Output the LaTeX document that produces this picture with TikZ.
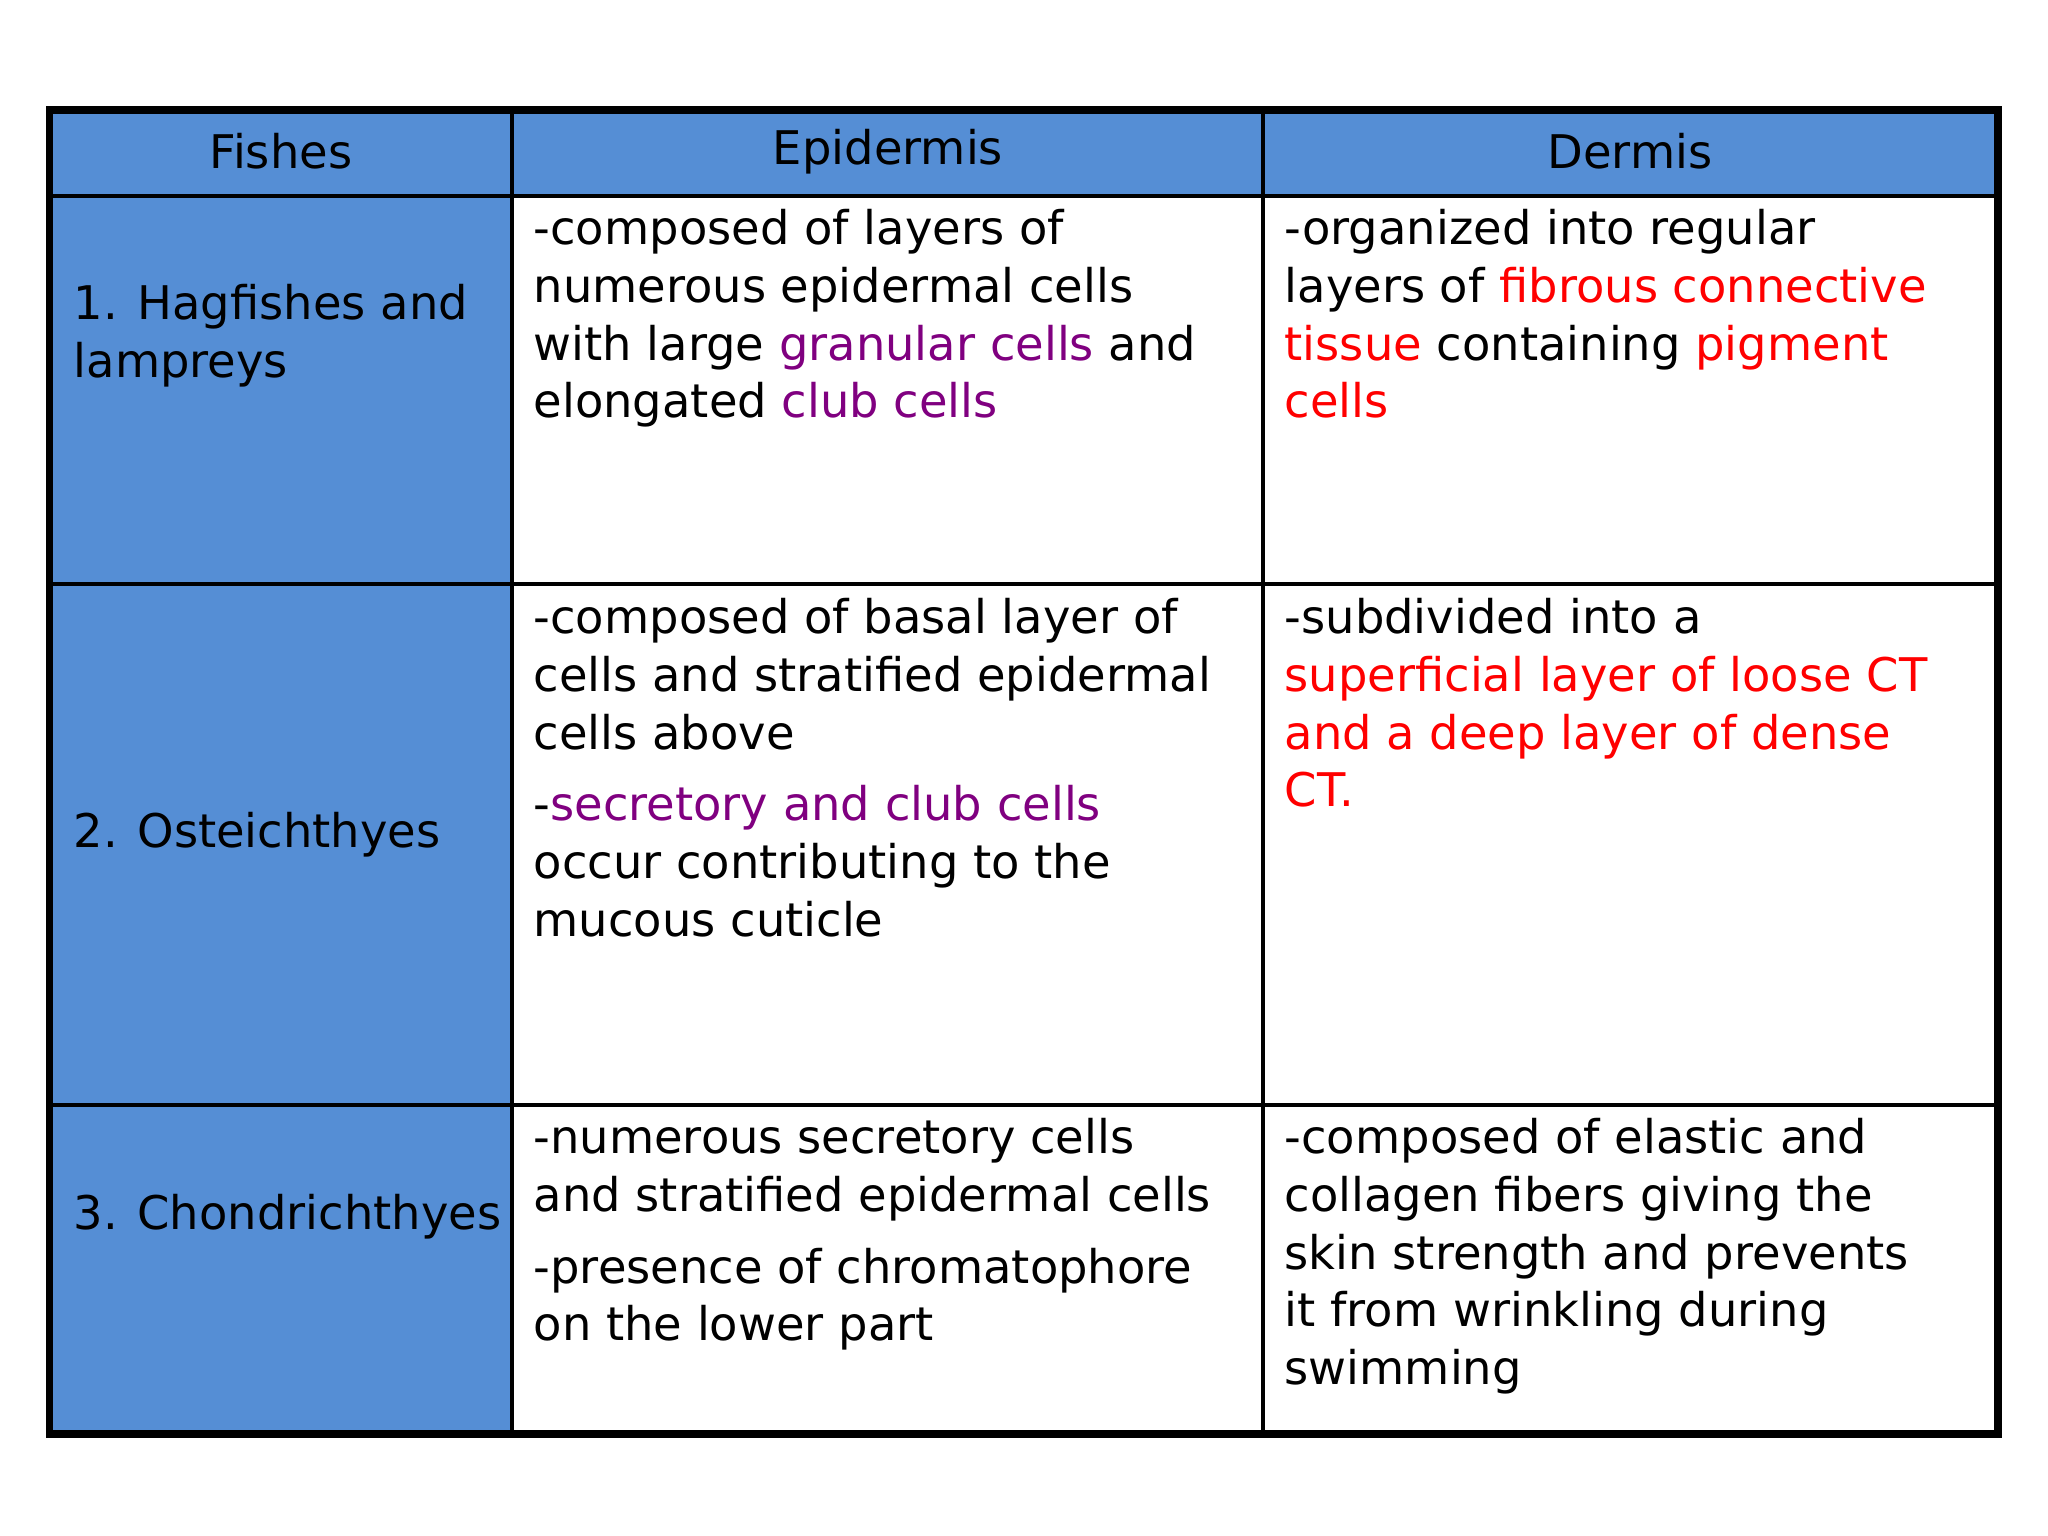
\documentclass[tikz,border=0pt]{standalone}
\usepackage{fontspec}
\setmainfont{DejaVu Sans}
\definecolor{hdr}{HTML}{558ED5}
\definecolor{pur}{HTML}{800080}
\definecolor{rd}{HTML}{FF0000}
\begin{document}
\begin{tikzpicture}[x=1cm,y=1cm,
  txt/.style={anchor=north west,inner sep=0pt,align=left,font=\fontsize{13.2}{16.4}\selectfont},
  fish/.style={anchor=west,inner sep=0pt,align=left,font=\fontsize{13.2}{16.4}\selectfont},
  head/.style={inner sep=0pt,font=\fontsize{13.2}{16.4}\selectfont}]
\useasboundingbox (0,0) rectangle (20.48,15.36);
\fill[hdr] (0.496,15.36-1.097) rectangle (19.98,15.36-1.96);
\fill[hdr] (0.496,15.36-1.96) rectangle (5.12,15.36-14.34);
\draw[line width=0.9pt] (5.12,15.36-1.097) -- (5.12,15.36-14.34);
\draw[line width=0.9pt] (12.63,15.36-1.097) -- (12.63,15.36-14.34);
\draw[line width=0.9pt] (0.496,15.36-1.96) -- (19.98,15.36-1.96);
\draw[line width=0.9pt] (0.496,15.36-5.84) -- (19.98,15.36-5.84);
\draw[line width=0.9pt] (0.496,15.36-11.05) -- (19.98,15.36-11.05);
\draw[line width=2.2pt] (0.496,15.36-1.097) rectangle (19.98,15.36-14.34);
\node[head] (h1) at (2.81,13.845) {Fishes};
\node[head] (h2) at (8.88,13.845) {Epidermis};
\node[head] (h3) at (16.30,13.845) {Dermis};
\node[fish] (f1) at (0.73,12.00) {1. Hagfishes and\\lampreys};
\node[fish] (f2) at (0.73,7.01) {2. Osteichthyes};
\node[fish] (f3) at (0.73,3.19) {3. Chondrichthyes};
\node[txt] (e1) at (5.33,13.27) {-composed of layers of\\numerous epidermal cells\\with large \textcolor{pur}{granular cells} and\\elongated \textcolor{pur}{club cells}};
\node[txt] (d1) at (12.84,13.27) {-organized into regular\\layers of \textcolor{rd}{fibrous connective}\\\textcolor{rd}{tissue} containing \textcolor{rd}{pigment}\\\textcolor{rd}{cells}};
\node[txt] (e2) at (5.33,9.38) {-composed of basal layer of\\cells and stratified epidermal\\cells above\\[4pt]-\textcolor{pur}{secretory and club cells}\\occur contributing to the\\mucous cuticle};
\node[txt] (d2) at (12.84,9.38) {-subdivided into a\\\textcolor{rd}{superficial layer of loose CT}\\\textcolor{rd}{and a deep layer of dense}\\\textcolor{rd}{CT.}};
\node[txt] (e3) at (5.33,4.18) {-numerous secretory cells\\and stratified epidermal cells\\[4pt]-presence of chromatophore\\on the lower part};
\node[txt] (d3) at (12.84,4.18) {-composed of elastic and\\collagen fibers giving the\\skin strength and prevents\\it from wrinkling during\\swimming};
\end{tikzpicture}
\end{document}
